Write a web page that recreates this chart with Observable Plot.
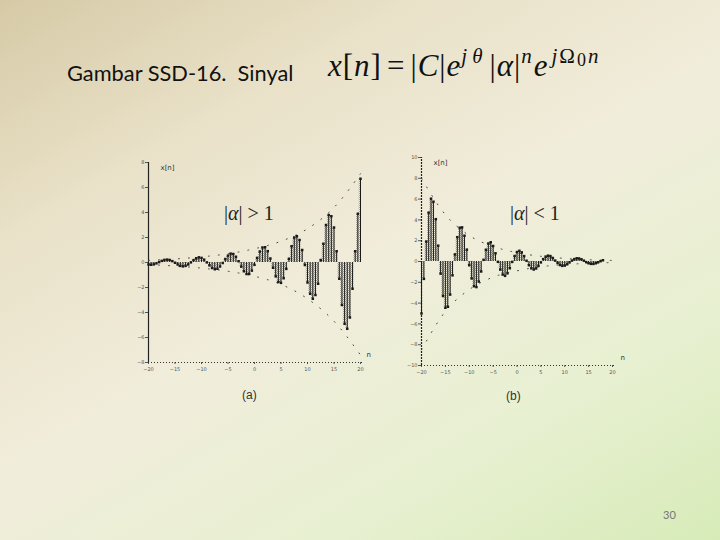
<!DOCTYPE html>
<html>
<head>
<meta charset="utf-8">
<script src="https://cdn.jsdelivr.net/npm/d3@7"></script>
<script src="https://cdn.jsdelivr.net/npm/@observablehq/plot@0.6"></script>
<style>
  html, body { margin: 0; padding: 0; }
  #slide {
    position: relative; width: 720px; height: 540px; overflow: hidden;
    background: linear-gradient(150deg, #d6caa6 0%, #e9e1c8 25%, #f1eddb 50%, #e8f0d2 75%, #d7ebb8 100%);
  }
  .abs { position: absolute; white-space: nowrap; }
  #title { left: 67px; top: 59px; font-family: Lato, "Open Sans", sans-serif; font-size: 21.8px; color: #111; }
  #formula { left: 328px; top: 44px; font-family: "Liberation Serif", "DejaVu Serif", serif; font-size: 31px; color: #111; letter-spacing: 1px; }
  #formula i { font-style: italic; }
  #formula sup { font-size: 21px; vertical-align: 13px; letter-spacing: 2px; }
  #formula sub { font-size: 18px; vertical-align: -3px; font-style: normal; }
  #formula .sp { display: inline-block; width: 5px; }
  #formula .ss { display: inline-block; width: 3px; }
  .alpha { font-family: "Liberation Serif", "DejaVu Serif", serif; font-size: 20px; color: #222; }
  .cap { font-family: "Liberation Sans", Arial, sans-serif; font-size: 12px; color: #333; }
  #page { left: 663px; top: 508px; font-family: Lato, sans-serif; font-size: 11px; color: #777; }
  .plotbox { position: absolute; }
  .plotbox svg { overflow: visible; }
</style>
</head>
<body>
<svg width="0" height="0" style="position:absolute">
  <defs>
    <pattern id="dither" width="2" height="2" patternUnits="userSpaceOnUse">
      <rect x="0" y="0" width="1" height="1" fill="#222"></rect>
      <rect x="1" y="1" width="1" height="1" fill="#222"></rect>
    </pattern>
  </defs>
</svg>
<div id="slide">
  <div id="title" class="abs">Gambar SSD-16.&nbsp; Sinyal</div>
  <div id="formula" class="abs"><i>x</i>[<i>n</i>]<span class="sp"></span>=<span class="sp"></span>|<i>C</i>|<i>e</i><sup><i>j</i><span class="ss"></span><i>θ</i></sup><span class="sp"></span>|<i>α</i>|<sup><i>n</i></sup><i>e</i><sup><span class="ss"></span><i>j</i>Ω<sub>0</sub><i>n</i></sup></div>
  <div class="abs alpha" style="left:224px; top:202px;">|<i>α</i>| &gt; 1</div>
  <div class="abs alpha" style="left:510px; top:202px;">|<i>α</i>| &lt; 1</div>
  <div class="abs cap" style="left:242px; top:388px;">(a)</div>
  <div class="abs cap" style="left:506px; top:389px;">(b)</div>
  <div id="page" class="abs">30</div>
  <div id="plotA" class="plotbox" style="left:130px; top:150px;"></div>
  <div id="plotB" class="plotbox" style="left:400px; top:145px;"></div>
</div>
<script>
// ---------- data ----------
const xTicks = [-20, -15, -10, -5, 0, 5, 10, 15, 20];
const yTicksA = [-8, -6, -4, -2, 0, 2, 4, 6, 8];
const yTicksB = [-10, -8, -6, -4, -2, 0, 2, 4, 6, 8, 10];

// (a) |alpha| > 1 : growing oscillation
const nA = [-20, -19.5, -19, -18.5, -18, -17.5, -17, -16.5, -16, -15.5,
  -15, -14.5, -14, -13.5, -13, -12.5, -12, -11.5, -11, -10.5,
  -10, -9.5, -9, -8.5, -8, -7.5, -7, -6.5, -6, -5.5,
  -5, -4.5, -4, -3.5, -3, -2.5, -2, -1.5, -1, -0.5,
  0, 0.5, 1, 1.5, 2, 2.5, 3, 3.5, 4, 4.5,
  5, 5.5, 6, 6.5, 7, 7.5, 8, 8.5, 9, 9.5,
  10, 10.5, 11, 11.5, 12, 12.5, 13, 13.5, 14, 14.5,
  15, 15.5, 16, 16.5, 17, 17.5, 18, 18.5, 19, 19.5, 20];
const yA = [-0.16, -0.18, -0.15, -0.07, 0.03, 0.13, 0.21, 0.23, 0.20, 0.11,
  -0.02, -0.16, -0.27, -0.31, -0.27, -0.16, 0.01, 0.19, 0.34, 0.41,
  0.37, 0.23, 0.01, -0.23, -0.44, -0.54, -0.50, -0.32, -0.04, 0.28,
  0.55, 0.71, 0.68, 0.46, 0.10, -0.33, -0.70, -0.92, -0.91, -0.65,
  -0.19, 0.37, 0.88, 1.20, 1.22, 0.91, 0.32, -0.42, -1.11, -1.56,
  -1.63, -1.26, -0.51, 0.3, 1.3, 2.0, 2.1, 1.8, 1.0, -0.2,
  -1.6, -2.5, -2.9, -2.6, -1.7, 0.2, 1.5, 3.0, 3.8, 3.7,
  2.8, 0.9, -1.3, -3.4, -4.9, -5.3, -4.4, -2.1, 0.9, 3.9, 6.7];
const envNA = [-20, -15, -10, -5, 0, 5, 10, 15, 20];
const envUpA = [0.17, 0.28, 0.45, 0.7, 1.1, 1.7, 2.7, 4.4, 7.1];
const envLoA = [-0.17, -0.28, -0.45, -0.7, -1.1, -1.75, -2.9, -4.7, -7.4];

// (b) |alpha| < 1 : decaying oscillation
const nB = [-20, -19.5, -19, -18.5, -18, -17.5, -17, -16.5, -16, -15.5,
  -15, -14.5, -14, -13.5, -13, -12.5, -12, -11.5, -11, -10.5,
  -10, -9.5, -9, -8.5, -8, -7.5, -7, -6.5, -6, -5.5,
  -5, -4.5, -4, -3.5, -3, -2.5, -2, -1.5, -1, -0.5,
  0, 0.5, 1, 1.5, 2, 2.5, 3, 3.5, 4, 4.5,
  5, 5.5, 6, 6.5, 7, 7.5, 8, 8.5, 9, 9.5,
  10, 10.5, 11, 11.5, 12, 12.5, 13, 13.5, 14, 14.5,
  15, 15.5, 16, 16.5, 17, 17.5, 18];
const yB = [-5.0, -1.67, 1.92, 4.70, 6.04, 5.75, 4.07, 1.52, -1.17, -3.32,
  -4.45, -4.35, -3.18, -1.33, 0.68, 2.34, 3.25, 3.28, 2.48, 1.14,
  -0.36, -1.63, -2.38, -2.46, -1.93, -0.96, 0.16, 1.13, 1.73, 1.85,
  1.49, 0.79, -0.03, -0.78, -1.26, -1.38, -1.14, -0.65, -0.04, 0.53,
  0.91, 1.03, 0.88, 0.52, 0.07, -0.36, -0.66, -0.77, -0.67, -0.42,
  -0.09, 0.23, 0.47, 0.56, 0.52, 0.34, 0.09, -0.15, -0.34, -0.42,
  -0.39, -0.27, -0.09, 0.09, 0.23, 0.31, 0.29, 0.21, 0.08, -0.06,
  -0.17, -0.23, -0.23, -0.17, -0.07, 0.03, 0.12];
const envNB = [-20, -15, -10, -5, 0, 5, 10, 15, 20];
const envUpB = [8.0, 4.5, 2.5, 1.45, 0.85, 0.5, 0.3, 0.17, 0.1];
const envLoB = [-8.5, -4.8, -2.7, -1.5, -0.9, -0.5, -0.3, -0.17, -0.1];

// ---------- build ----------
function stemPlot(o) {
  const data = o.n.map((n, i) => ({n, y: o.y[i]}));
  const up = o.envN.map((n, i) => ({n, y: o.envUp[i]}));
  const lo = o.envN.map((n, i) => ({n, y: o.envLo[i]}));
  const ink = "#1a1a1a";
  return Plot.plot({
    width: o.width, height: o.height,
    marginLeft: o.ml, marginRight: o.mr, marginTop: o.mt, marginBottom: o.mb,
    style: {background: "transparent", color: "#555", fontFamily: "DejaVu Sans", overflow: "visible"},
    x: {domain: [-20, 20], label: null},
    y: {domain: o.yDomain, label: null},
    marks: [
      Plot.axisY({ticks: o.yTicks, tickSize: 3, tickPadding: 1, fontSize: 5, label: null, stroke: "#555"}),
      Plot.axisX({ticks: xTicks, tickSize: 2, tickPadding: 3, fontSize: 5, label: null, stroke: "#555"}),
      Plot.ruleX([-20], {y1: o.yDomain[0], y2: o.yDomain[1], stroke: "#222", strokeWidth: 1.2, strokeDasharray: o.yDash}),
      Plot.ruleY([o.yDomain[0]], {x1: -20, x2: 20.5, stroke: "#333", strokeDasharray: "1,2"}),
      Plot.line(up, {x: "n", y: "y", stroke: "#444", strokeWidth: 1, strokeDasharray: "1,9", curve: "monotone-x"}),
      Plot.line(lo, {x: "n", y: "y", stroke: "#444", strokeWidth: 1, strokeDasharray: "1,9", curve: "monotone-x"}),
      Plot.areaY(data, {x: "n", y: "y", fill: "url(#dither)", fillOpacity: 0.35, curve: "step"}),
      Plot.ruleX(data, {x: "n", y1: 0, y2: "y", stroke: ink, strokeWidth: 1}),
      Plot.dot(data, {x: "n", y: "y", symbol: "square", r: 1.4, fill: ink, stroke: "none"}),
      Plot.text(["x[n]"], {frameAnchor: "top-left", dx: o.xlabDx, dy: 3, fontSize: 7, fill: "#333", textAnchor: "start"}),
      Plot.text([o.nLabel], {frameAnchor: "bottom-right", dx: o.nDx, dy: -6, fontSize: 7, fill: "#333", textAnchor: "start"})
    ]
  });
}

document.getElementById("plotA").append(stemPlot({
  n: nA, y: yA, envN: envNA, envUp: envUpA, envLo: envLoA,
  width: 250, height: 228, ml: 18, mr: 20, mt: 12, mb: 16,
  yDomain: [-8, 8], yTicks: yTicksA, yDash: null, xlabDx: 12, nDx: 6, nLabel: "n"
}));
document.getElementById("plotB").append(stemPlot({
  n: nB, y: yB, envN: envNB, envUp: envUpB, envLo: envLoB,
  width: 230, height: 235, ml: 21, mr: 18, mt: 12, mb: 15,
  yDomain: [-10, 10], yTicks: yTicksB, yDash: "2,1", xlabDx: 12, nDx: 8, nLabel: "n"
}));
</script>
</body>
</html>
